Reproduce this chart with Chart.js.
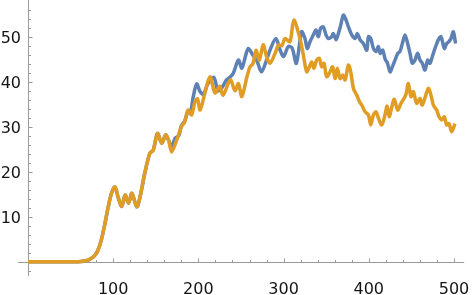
<!DOCTYPE html>
<html>
<head>
<meta charset="utf-8">
<script src="https://cdn.jsdelivr.net/npm/chart.js@4.4.1/dist/chart.umd.min.js"></script>
<style>
  html, body { margin: 0; padding: 0; background: #fff; }
</style>
</head>
<body>
<canvas id="walkChart" width="474" height="295"></canvas>
<script>
// part both walks share (the orange one covers the blue one here)
const sharedX = [0, 20, 40, 55, 62, 68, 73, 78, 82, 86, 90, 94, 98, 102, 106, 110, 114, 118, 122, 127.6, 131.5, 137, 143, 147, 152, 157, 161.6, 165];
const sharedY = [0, 0, 0, 0, 0.05, 0.2, 0.6, 1.3, 2.5, 4.8, 8.2, 12, 15.2, 16.6, 14.2, 12.3, 14.8, 13, 15.2, 12.2, 14.4, 19.6, 24.1, 24.8, 28.5, 26.3, 28.2, 27];

// blue walk after the shared part
const blueX = [168.6, 172.5, 177, 180, 184, 188, 191, 194, 198, 202, 206, 211, 218, 223, 227, 233, 237, 241, 247, 251,
  255, 258.6, 264, 269, 274, 280, 284, 291, 296, 300, 305.5, 310, 315, 321.2, 325.1, 327.8, 331, 334.9, 338, 340.8,
  343.5, 346.6, 349.8, 352.5, 356.4, 358.4, 361.6, 364.3, 367.1, 370.2, 373.3, 376.1, 380, 383.9, 386.6, 389.8, 393.7, 397.6, 399.6, 402.3,
  405.4, 408.6, 411.3, 413.3, 416.4, 419.2, 422, 425, 427.7, 430.8, 434, 436.6, 439.4, 442.5, 445.6, 448.4, 451.1, 454.2, 457.3, 460.1,
  462.8, 466, 469.1, 471.8, 474.6, 477.7, 481.6, 484.7, 488.7, 491.4, 494.1, 496.5, 499.2, 501.9];
const blueY = [25.5, 27.4, 28, 30.2, 31.3, 33.6, 33.5, 36.7, 39.5, 37.8, 37.2, 39.5, 41, 38, 38.5, 40.4, 41, 41.9, 44.8, 43,
  45.5, 47.4, 45.9, 44.5, 42.2, 44.8, 47, 49.6, 47, 45.6, 47.8, 47.5, 44.1, 51.1, 49.6, 47.4, 48.9, 50.4, 51.5, 50,
  51.9, 52.2, 50.4, 49.6, 50, 50.7, 49.3, 50.7, 52.6, 54.8, 53.7, 52.2, 50.4, 49.6, 50.7, 49.3, 48.5, 47, 50, 49.6,
  47.4, 46.7, 47.8, 46.3, 47, 45, 44.1, 42.2, 43.3, 44.8, 46.3, 46.7, 48.5, 50.4, 48.5, 46.3, 44.1, 44.8, 46.3, 44.8,
  44.1, 42.6, 44.8, 44.1, 45.6, 47.4, 49.3, 50, 47.4, 48.5, 48.9, 49.6, 51.1, 48.5];

// orange walk after the shared part
const orangeX = [168.6, 174.5, 180, 184, 188, 192, 196, 199, 202, 207, 213.6, 219.5, 225, 229, 235, 238, 243, 247, 251, 257,
  260.5, 264, 267.6, 271.5, 276, 280, 284, 290, 294, 298, 301.6, 307.5, 312, 319.2, 323.2, 327.1, 330.2, 333, 335.7, 338.8,
  342, 344.7, 347.4, 350.6, 354.5, 357.6, 360.4, 363.1, 366.3, 369.4, 372.2, 376.1, 378.8, 382, 385.9, 389, 391.8, 395.7, 399.6, 402.3,
  405.4, 408.6, 411.3, 415.2, 419, 421.5, 424, 427, 430, 433.9, 437.8, 443.3, 446.4, 449.5, 452.3, 456.2, 460.1, 462.8, 469.9, 473,
  475.8, 479.7, 482.5, 485.6, 488.7, 491.4, 494.1, 497.3, 501.2];
const orangeY = [24.4, 27, 30, 31.1, 33.7, 32.6, 35.5, 36.2, 33.7, 37, 41.1, 37.5, 39, 37, 39.6, 40.4, 38, 39.6, 36.7, 41.1,
  43.3, 44, 47, 44.8, 48.2, 45.6, 44.1, 46.3, 48.2, 48, 49.6, 48.9, 53.7, 49.6, 45.9, 42.2, 43.3, 44.4, 43, 44.8,
  45.2, 43.3, 44.1, 41.1, 42.2, 43.3, 40.7, 43, 40.7, 41.5, 40.4, 43.7, 42.2, 38.5, 37, 35.6, 34.8, 33.3, 32.6, 30.4,
  32.6, 33.3, 31.9, 30.4, 32.6, 34.6, 32.2, 34.4, 36.1, 33.7, 35.2, 37, 39.6, 36.7, 37.8, 35.2, 36.3, 34.8, 38.5, 37,
  34.8, 33.7, 32.2, 31.5, 32.2, 30.4, 30.7, 28.9, 30.7];

const xTicks = [100, 200, 300, 400, 500];
const yTicks = [10, 20, 30, 40, 50];

function toPoints(xs, ys) {
  return xs.map((x, i) => ({ x: x, y: ys[i] }));
}

// Mathematica style axes crossing at the origin, drawn under the lines
const originAxes = {
  id: 'originAxes',
  beforeDatasetsDraw(chart) {
    const ctx = chart.ctx;
    const sx = chart.scales.x;
    const sy = chart.scales.y;
    const x0 = Math.round(sx.getPixelForValue(0)) + 0.5;
    const y0 = Math.round(sy.getPixelForValue(0)) + 0.5;
    ctx.save();
    ctx.strokeStyle = '#9a9a9a';
    ctx.lineWidth = 1;
    ctx.beginPath();
    ctx.moveTo(sx.getPixelForValue(-11.8), y0);
    ctx.lineTo(sx.getPixelForValue(512), y0);
    ctx.moveTo(x0, sy.getPixelForValue(-3.2));
    ctx.lineTo(x0, chart.chartArea.top);
    // x ticks, every 20, long ones on the labels
    for (let v = 20; v <= 500; v += 20) {
      const px = Math.round(sx.getPixelForValue(v)) + 0.5;
      const len = v % 100 === 0 ? 4 : 2.5;
      ctx.moveTo(px, y0);
      ctx.lineTo(px, y0 - len);
    }
    // y ticks, every 2
    for (let v = -2; v <= 56; v += 2) {
      if (v === 0) continue;
      const py = Math.round(sy.getPixelForValue(v)) + 0.5;
      const len = v % 10 === 0 ? 4 : 2.5;
      ctx.moveTo(x0, py);
      ctx.lineTo(x0 + len, py);
    }
    ctx.stroke();

    ctx.fillStyle = '#141414';
    ctx.font = '16px "DejaVu Sans"';
    ctx.textBaseline = 'alphabetic';
    ctx.textAlign = 'center';
    xTicks.forEach(v => {
      ctx.fillText(String(v), sx.getPixelForValue(v), 294);
    });
    ctx.textAlign = 'right';
    yTicks.forEach(v => {
      ctx.fillText(String(v), 21, sy.getPixelForValue(v) + 5.8);
    });
    ctx.restore();
  }
};

const ctx = document.getElementById('walkChart').getContext('2d');

new Chart(ctx, {
  type: 'line',
  data: {
    datasets: [{
      label: 'orange',
      data: toPoints(sharedX.concat(orangeX), sharedY.concat(orangeY)),
      borderColor: '#e19c24',
      borderWidth: 3.5,
      pointRadius: 0,
      tension: 0.3,
      fill: false
    }, {
      label: 'blue',
      data: toPoints(sharedX.concat(blueX), sharedY.concat(blueY)),
      borderColor: '#5e81b5',
      borderWidth: 3.5,
      pointRadius: 0,
      tension: 0.3,
      fill: false
    }]
  },
  options: {
    responsive: false,
    animation: false,
    events: [],
    layout: { padding: 0 },
    plugins: {
      legend: { display: false },
      tooltip: { enabled: false }
    },
    scales: {
      x: { type: 'linear', display: false, min: -32.86, max: 523.5 },
      y: { type: 'linear', display: false, min: -7.4, max: 58.16 }
    }
  },
  plugins: [originAxes]
});
</script>
</body>
</html>
